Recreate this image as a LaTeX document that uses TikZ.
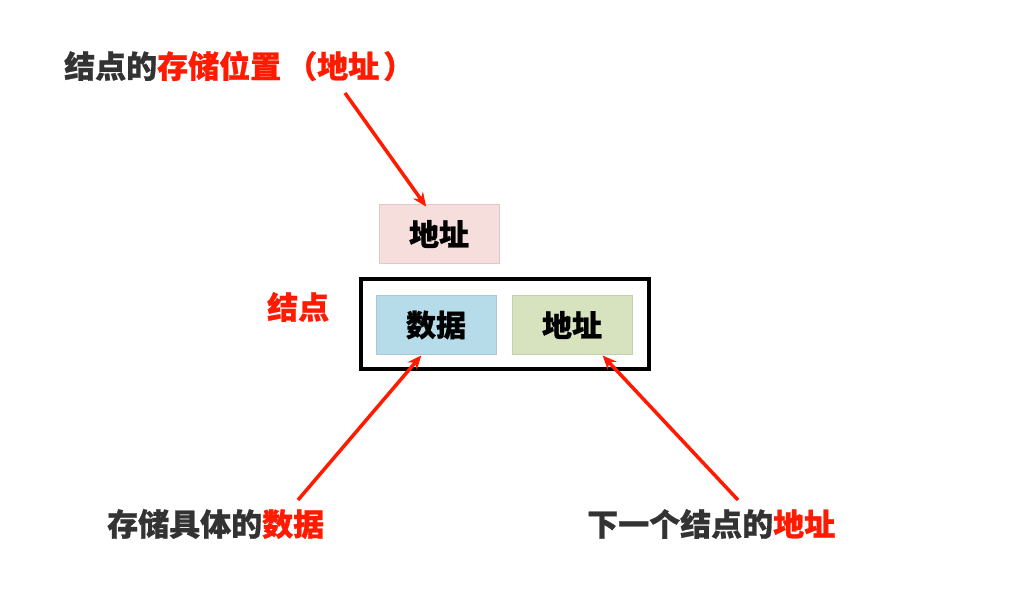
\documentclass[tikz,border=0pt]{standalone}
\usepackage{fontspec}
\newfontfamily\cjk{Noto Sans CJK SC}[BoldFeatures={FakeBold=0.8}]
\usetikzlibrary{arrows.meta}
\definecolor{hred}{HTML}{FF1A00}
\definecolor{dgray}{HTML}{333333}
\definecolor{pinkfill}{HTML}{F5DEDC}
\definecolor{bluefill}{HTML}{B6DCEA}
\definecolor{greenfill}{HTML}{D7E2BE}
\tikzset{
  txt/.style={inner sep=0pt, font=\cjk\bfseries\fontsize{31}{34}\selectfont, text=dgray},
  cell/.style={minimum width=120pt, minimum height=59pt, inner sep=0pt, draw=#1!80!gray, line width=0.4pt, fill=#1, font=\cjk\bfseries\fontsize{30}{33}\selectfont, text=black},
  frame/.style={draw=black, line width=4pt},
  redarrow/.style={draw=hred, line width=3.5pt, -{Stealth[length=14pt,width=12pt]}, shorten >=-2pt}
}
\begin{document}
\begin{tikzpicture}[x=1pt,y=-1pt]
\useasboundingbox[fill=white] (0,0) rectangle (1012,608);
\node[txt, anchor=west] (title) at (64,66) {结点的\textcolor{hred}{存储位置\hspace{5pt}（地址\hspace{4pt}）}};
\node[cell=pinkfill] (addr0) at (439,234) {地址};
\node[frame, minimum width=288pt, minimum height=90pt, inner sep=0pt] (node) at (505,324) {};
\node[cell=bluefill] (data) at (436,325) {数据};
\node[cell=greenfill] (addr1) at (572,325) {地址};
\node[txt, text=hred, anchor=west] (lbl) at (267,307) {结点};
\node[txt, anchor=west] (bl) at (107,524) {存储具体的\textcolor{hred}{数据}};
\node[txt, anchor=west] (br) at (587,524) {下一个结点的\textcolor{hred}{地址}};
\coordinate (s1) at (345,93);
\coordinate (e1) at (425,205);
\coordinate (s2) at (298,500);
\coordinate (e2) at (420,357);
\coordinate (s3) at (738,500);
\coordinate (e3) at (604,357);
\draw[redarrow] (s1) -- (e1);
\draw[redarrow] (s2) -- (e2);
\draw[redarrow] (s3) -- (e3);
\end{tikzpicture}
\end{document}
